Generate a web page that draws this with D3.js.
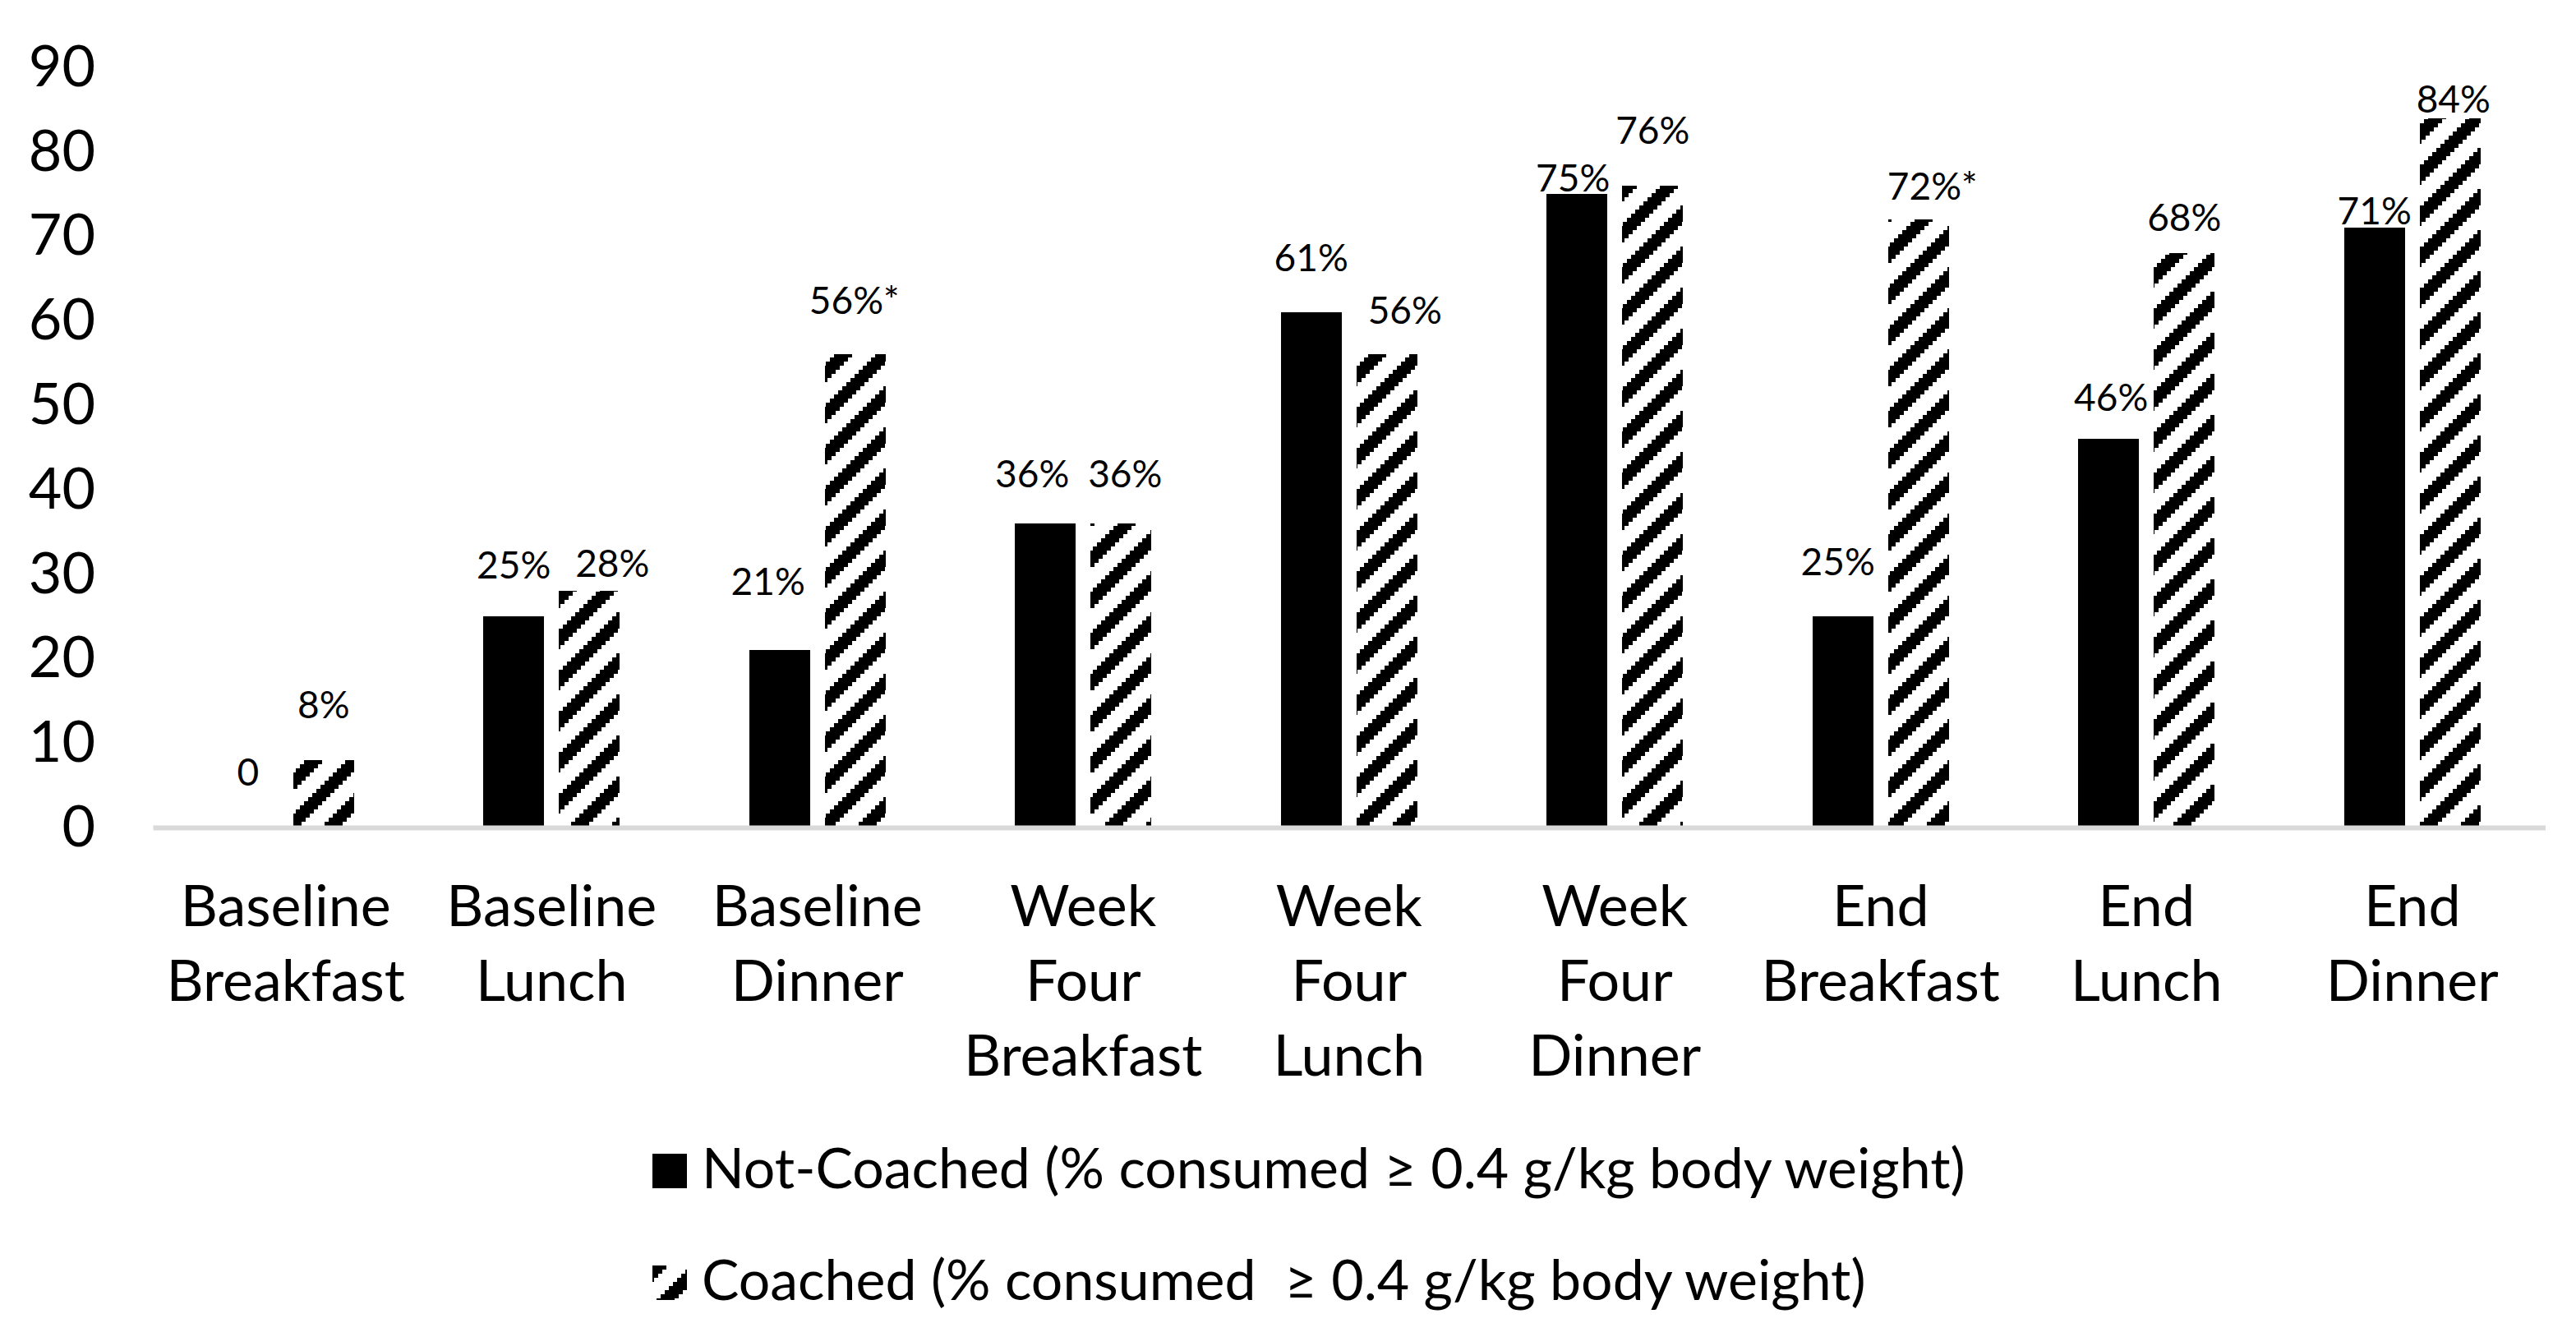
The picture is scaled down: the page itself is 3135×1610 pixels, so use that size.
<!DOCTYPE html>
<html>
<head>
<meta charset="utf-8">
<script src="https://cdn.jsdelivr.net/npm/d3@7"></script>
<style>
  body { margin: 0; background: #fff; }
  text { font-family: Lato, "Open Sans", sans-serif; fill: #000; }
</style>
</head>
<body>
<div id="chart"></div>
<script>
// data
const categories = [
  ["Baseline", "Breakfast"], ["Baseline", "Lunch"], ["Baseline", "Dinner"],
  ["Week", "Four", "Breakfast"], ["Week", "Four", "Lunch"], ["Week", "Four", "Dinner"],
  ["End", "Breakfast"], ["End", "Lunch"], ["End", "Dinner"]
];
const notCoached = [0, 25, 21, 36, 61, 75, 25, 46, 71];
const coached = [8, 28, 56, 36, 56, 76, 72, 68, 84];
const notCoachedLabels = ["0", "25%", "21%", "36%", "61%", "75%", "25%", "46%", "71%"];
const coachedLabels = ["8%", "28%", "56%*", "36%", "56%", "76%", "72%*", "68%", "84%"];
const yTicks = [0, 10, 20, 30, 40, 50, 60, 70, 80, 90];
const seriesNames = [
  "Not-Coached (% consumed \u2265 0.4 g/kg body weight)",
  "Coached (% consumed  \u2265 0.4 g/kg body weight)"
];

// hand-placed label nudges (px): horizontal shift and gap above the bar
const ncDx = [0, 0, -14, -16, 0, -5, -6, 3, 0];
const ncGap = [51, 46, 67, 44, 50, 3, 50, 34, 4];
const cDx = [0, 28, -1, 5, 22, 0, 17, 0, 4];
const cGap = [51, 17, 49, 44, 37, 51, 24, 27, 7];

const width = 3135, height = 1610;
const svg = d3.select("#chart").append("svg").attr("width", width).attr("height", height);

// wide upward diagonal hatch, stepped like the original
const pat = svg.append("defs").append("pattern")
  .attr("id", "hatch").attr("patternUnits", "userSpaceOnUse")
  .attr("width", 50).attr("height", 50);
pat.append("rect").attr("width", 50).attr("height", 50).attr("fill", "#fff");
for (let r = 0; r < 50; r += 5) {
  const start = ((50 - r - 5) % 50 + 50) % 50;
  [start, start - 50].forEach(s => {
    pat.append("rect").attr("x", s).attr("y", r).attr("width", 22).attr("height", 5).attr("fill", "#000");
  });
}

const x = d3.scaleBand().domain(d3.range(categories.length)).range([186, 3097.5]).padding(0);
const xs = d3.scaleBand().domain([0, 1]).paddingInner(0.196).paddingOuter(0);
const y = d3.scaleLinear().domain([0, 90]).range([1007, 82]);

function groupScale(i) {
  const c = x(i) + x.bandwidth() / 2;
  return xs.copy().range([c - 83, c + 83]);
}
const barW = groupScale(0).bandwidth();

// y axis labels
const yAxis = svg.append("g").attr("transform", "translate(186,0)")
  .call(d3.axisLeft(y).tickValues(yTicks).tickSize(0).tickPadding(70));
yAxis.select(".domain").remove();
yAxis.selectAll("text").attr("font-size", 70).attr("font-family", "Lato");

// bars
const series = [
  { vals: notCoached, labels: notCoachedLabels, fill: "#000", dx: ncDx, gap: ncGap },
  { vals: coached, labels: coachedLabels, fill: "url(#hatch)", dx: cDx, gap: cGap }
];
series.forEach((s, si) => {
  svg.append("g").selectAll("rect").data(s.vals).join("rect")
    .attr("x", (d, i) => groupScale(i)(si))
    .attr("width", barW)
    .attr("y", d => y(d))
    .attr("height", d => y(0) - y(d))
    .attr("fill", s.fill)
    .attr("shape-rendering", "crispEdges");
  svg.append("g").selectAll("text").data(s.vals).join("text")
    .attr("x", (d, i) => groupScale(i)(si) + barW / 2 + s.dx[i])
    .attr("y", (d, i) => y(d) - s.gap[i])
    .attr("text-anchor", "middle")
    .attr("font-size", 46)
    .text((d, i) => s.labels[i]);
});

// x axis line and category labels
const xAxis = svg.append("g").attr("transform", `translate(0,${y(0)})`)
  .call(d3.axisBottom(x).tickSize(0).tickSizeOuter(0).tickFormat(""));
xAxis.select(".domain").attr("stroke", "#d9d9d9").attr("stroke-width", 6);
xAxis.selectAll(".tick text").remove();
xAxis.selectAll(".tick").append("text")
  .attr("text-anchor", "middle")
  .attr("font-size", 70)
  .attr("font-family", "Lato")
  .selectAll("tspan").data(i => categories[i]).join("tspan")
  .attr("x", 0)
  .attr("y", (d, k) => 120 + k * 91)
  .text(d => d);

// legend
const legend = svg.append("g").selectAll("g").data(seriesNames).join("g")
  .attr("transform", (d, i) => `translate(794,${1404 + i * 136})`);
legend.append("rect")
  .attr("width", 42).attr("height", 42)
  .attr("fill", (d, i) => i === 0 ? "#000" : "url(#hatch)")
  .attr("shape-rendering", "crispEdges");
legend.append("text")
  .attr("x", 60).attr("y", 42)
  .attr("font-size", 68)
  .attr("xml:space", "preserve")
  .style("white-space", "pre")
  .text(d => d);
</script>
</body>
</html>
